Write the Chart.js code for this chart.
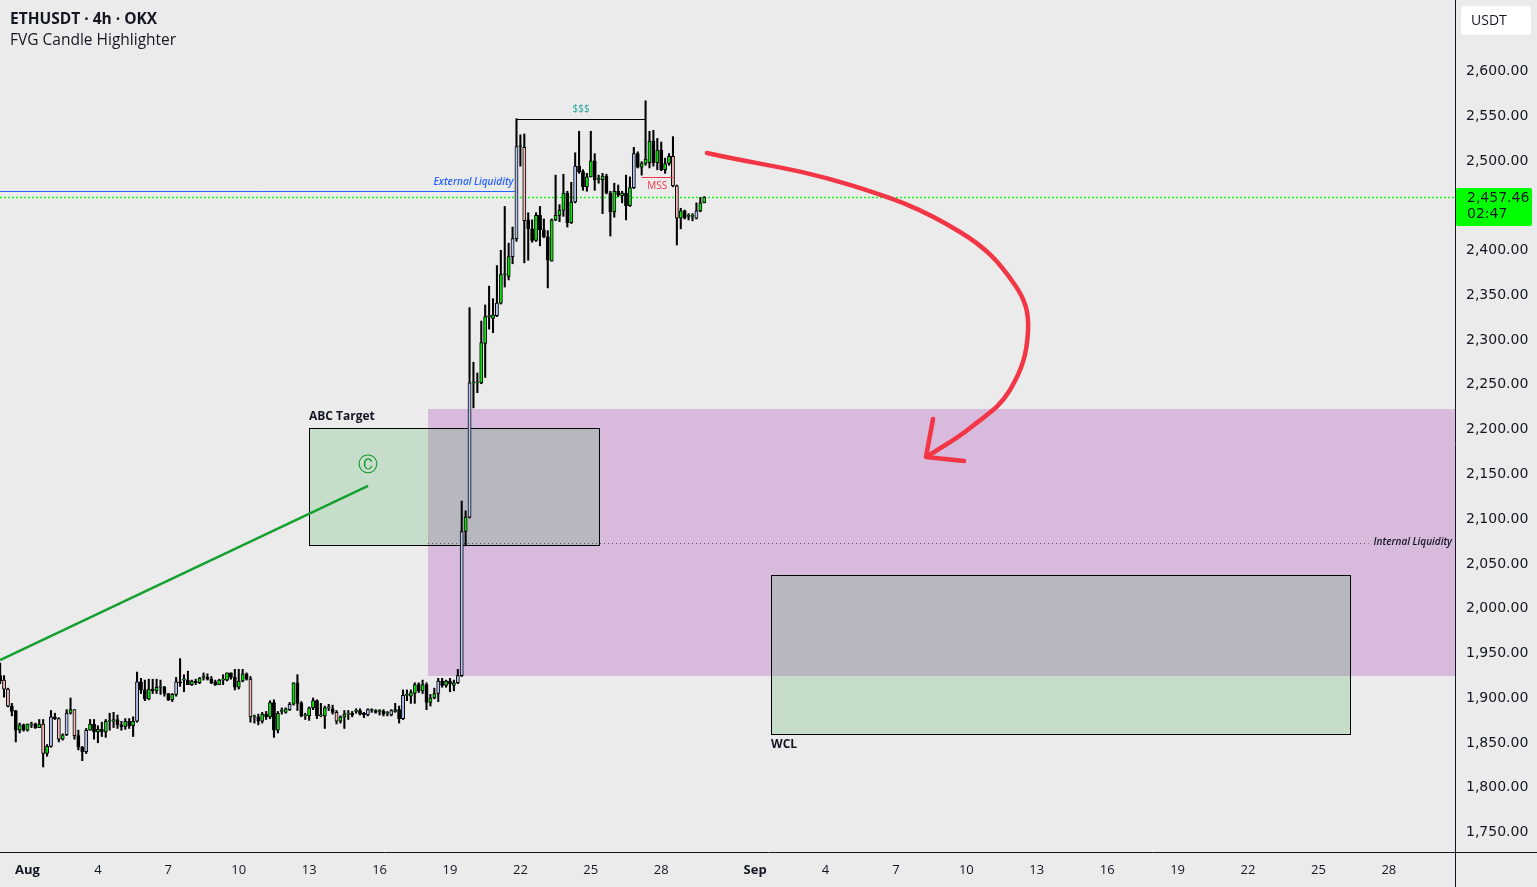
<!DOCTYPE html>
<html>
<head>
<meta charset="utf-8">
<title>ETHUSDT 4h - FVG Candle Highlighter</title>
<script src="https://cdn.jsdelivr.net/npm/chart.js@4.4.1/dist/chart.umd.min.js"></script>
<style>
  html, body { margin: 0; padding: 0; background: #ebebeb; overflow: hidden; }
  #chart { display: block; }
</style>
</head>
<body>
<canvas id="chart" width="1537" height="887"></canvas>
<script>
// 4h candles, Jul 30 20:00 -> Aug 29 20:00
const candleOpen = [
  1923,1918,1908,1889,1884,1862,1868,1862,1868,1869,
  1865,1869,1836,1844,1877,1875,1852,1857,1881,1885,
  1856,1843,1838,1862,1869,1860,1863,1860,1872,1872,
  1874,1868,1866,1872,1867,1872,1916,1907,1897,1908,
  1906,1910,1910,1903,1896,1902,1916,1918,1918,1913,
  1917,1915,1921,1921,1919,1916,1913,1918,1918,1926,
  1921,1910,1917,1925,1919,1877,1877,1872,1880,1877,
  1893,1862,1883,1882,1885,1891,1915,1892,1878,1878,
  1887,1895,1878,1878,1887,1886,1882,1872,1877,1880,
  1881,1883,1884,1881,1879,1884,1884,1883,1883,1881,
  1879,1883,1885,1875,1901,1900,1903,1913,1906,1913,
  1893,1898,1903,1917,1912,1917,1912,1915,1923,2084,
  2100,2250,2250,2250,2294,2324,2322,2325,2339,2371,
  2369,2391,2411,2514,2513,2432,2422,2409,2437,2421,
  2413,2386,2432,2437,2443,2462,2429,2452,2492,2486,
  2469,2480,2498,2477,2477,2481,2462,2441,2464,2459,
  2462,2448,2468,2506,2491,2495,2496,2520,2496,2510,
  2488,2495,2503,2470,2434,2442,2436,2436,2434,2442,
  2451
];
const candleHigh = [
  1937,1923,1909,1892,1884,1870,1869,1869,1871,1870,
  1874,1874,1846,1884,1881,1876,1858,1885,1898,1885,
  1862,1844,1864,1874,1874,1867,1871,1874,1881,1882,
  1879,1872,1875,1875,1877,1927,1920,1918,1919,1919,
  1919,1918,1911,1903,1903,1921,1942,1924,1928,1918,
  1919,1921,1926,1925,1922,1918,1919,1924,1926,1926,
  1930,1930,1930,1926,1922,1879,1880,1882,1883,1895,
  1896,1883,1887,1887,1893,1915,1924,1894,1881,1888,
  1898,1896,1892,1889,1891,1890,1884,1878,1884,1884,
  1883,1886,1886,1882,1886,1886,1885,1885,1885,1883,
  1885,1892,1889,1907,1907,1907,1915,1915,1918,1915,
  1902,1909,1920,1920,1918,1920,1918,1930,2118,2107,
  2334,2273,2261,2319,2337,2358,2344,2381,2398,2447,
  2406,2424,2545,2527,2528,2440,2432,2440,2447,2433,
  2420,2433,2482,2449,2483,2464,2474,2507,2531,2488,
  2484,2531,2506,2482,2484,2483,2464,2473,2471,2464,
  2482,2480,2513,2508,2497,2565,2531,2532,2523,2519,
  2501,2506,2525,2471,2445,2443,2439,2439,2451,2457,
  2458
];
const candleLow = [
  1914,1899,1888,1878,1849,1859,1861,1861,1865,1864,
  1865,1821,1833,1843,1874,1849,1851,1856,1880,1852,
  1840,1828,1836,1862,1852,1848,1855,1854,1862,1865,
  1864,1862,1863,1864,1855,1871,1903,1895,1896,1903,
  1903,1902,1900,1895,1894,1900,1911,1905,1913,1912,
  1913,1914,1918,1918,1914,1912,1913,1913,1917,1919,
  1907,1908,1916,1918,1871,1870,1868,1870,1874,1875,
  1854,1859,1880,1881,1884,1890,1884,1877,1874,1873,
  1885,1875,1877,1864,1884,1880,1869,1870,1864,1874,
  1877,1881,1879,1876,1878,1882,1881,1879,1878,1878,
  1878,1882,1870,1874,1895,1892,1892,1904,1903,1885,
  1889,1897,1894,1910,1910,1905,1906,1914,1922,2068,
  2099,2222,2239,2249,2256,2310,2306,2324,2338,2357,
  2365,2383,2408,2492,2384,2387,2407,2408,2403,2412,
  2356,2386,2431,2430,2436,2424,2428,2451,2484,2465,
  2464,2480,2465,2473,2439,2461,2414,2435,2458,2451,
  2432,2447,2467,2490,2482,2493,2490,2492,2488,2487,
  2484,2493,2469,2404,2422,2433,2432,2431,2433,2441,
  2451
];
const candleClose = [
  1917,1908,1889,1883,1862,1868,1862,1869,1868,1865,
  1869,1836,1844,1877,1875,1852,1857,1881,1885,1856,
  1843,1838,1862,1869,1860,1863,1860,1872,1872,1874,
  1868,1866,1872,1867,1872,1916,1907,1897,1908,1906,
  1910,1910,1903,1896,1902,1916,1915,1918,1913,1917,
  1915,1920,1921,1919,1915,1913,1918,1918,1926,1921,
  1910,1917,1925,1919,1877,1877,1872,1880,1877,1893,
  1862,1881,1883,1886,1891,1915,1892,1878,1878,1887,
  1895,1878,1878,1887,1887,1882,1872,1877,1880,1880,
  1879,1883,1880,1879,1885,1884,1882,1883,1880,1881,
  1884,1885,1875,1901,1901,1904,1913,1906,1913,1893,
  1898,1903,1917,1912,1917,1914,1915,1923,2084,2100,
  2250,2250,2250,2295,2324,2324,2326,2339,2371,2371,
  2391,2411,2514,2514,2431,2422,2409,2437,2421,2413,
  2387,2432,2437,2443,2462,2429,2452,2492,2486,2469,
  2480,2498,2477,2477,2481,2462,2441,2464,2460,2462,
  2448,2468,2506,2491,2495,2500,2520,2496,2510,2488,
  2495,2503,2470,2434,2442,2434,2436,2436,2442,2451,
  2457.46
];
// candles painted by the FVG highlighter (1-based candle numbers)
const fvgCandles = [2,3,12,14,16,18,20,23,36,46,65,75,87,95,101,104,113,118,119,121,128,132,133,135,148,163,173,174,179];

// time axis: days counted from Aug 1 00:00
const lastCandleDay = 28 + 20 / 24;
const xTickDays   = [0,3,6,9,12,15,18,21,24,27,31,34,37,40,43,46,49,52,55,58];
const xTickLabels = ['Aug','4','7','10','13','16','19','22','25','28','Sep','4','7','10','13','16','19','22','25','28'];
const yTickValues = [1750,1800,1850,1900,1950,2000,2050,2100,2150,2200,2250,2300,2350,2400,2450,2500,2550,2600];
const xRange = [-1.172, 60.82];
const yRange = [1726.0, 2677.6];

// drawings (day, price)
const fvgZone = [17.06, 2220.8, 1922.5];          // start day, top, bottom (runs to the right edge)
const abcBox  = [11.99, 24.35, 2199.6, 2068.9];   // left, right, top, bottom
const wclBox  = [31.68, 56.35, 2035.4, 1857.8];
const abcMark = [14.51, 2157.1];
const trendLine = [[-1.172, 1940.4], [14.51, 2134.8]];
const arrowCurve = [[28.95,2506.7],[35.04,2471.0],[39.73,2418.5],[42.07,2359.3],[42.63,2309.0],[41.86,2242.0],[40.16,2199.6],[38.37,2168.3]];
const arrowHead = [[38.58,2209.6],[38.28,2167.2],[39.90,2162.7]];
const externalLiquidity = 2464.3;
const internalLiquidity = 2071.1;
const sweepCandles = [133, 166];   // $$$ line between these highs
const mssCandles = [165, 173];
const mssLevel = 2480;
const lastPrice = 2457.46;
const lastPriceLabel = ['2,457.46', '02:47'];

const n = candleOpen.length;
const candleDay = candleOpen.map((_, i) => lastCandleDay - (n - 1 - i) / 6);
const fvgSet = new Set(fvgCandles);
const bodyColors = candleOpen.map((o, i) => {
    const up = candleClose[i] >= o;
    if (fvgSet.has(i + 1)) return up ? '#b3c5f0' : '#f3b7b7';
    return up ? '#0be30b' : '#000000';
});

const TEXT = '#131722';

function crisp(v) { return Math.round(v) + 0.5; }

// no label overhang padding, so the plot fills the canvas up to the axes
function noPadding(scale) {
    scale.paddingTop = 0;
    scale.paddingBottom = 0;
    scale.paddingLeft = 0;
    scale.paddingRight = 0;
}

const overlayPlugin = {
    id: 'overlay',
    beforeDatasetsDraw(chart) {
        const { ctx, chartArea: a, scales: { x, y } } = chart;
        ctx.save();
        ctx.beginPath();
        ctx.rect(a.left, a.top, a.width, a.height);
        ctx.clip();

        // FVG zone
        const zx = Math.round(x.getPixelForValue(fvgZone[0]));
        const zt = Math.round(y.getPixelForValue(fvgZone[1]));
        const zb = Math.round(y.getPixelForValue(fvgZone[2]));
        ctx.fillStyle = 'rgba(156,39,176,0.25)';
        ctx.fillRect(zx, zt, a.right - zx, zb - zt);

        // target boxes
        [abcBox, wclBox].forEach(b => {
            const l = crisp(x.getPixelForValue(b[0])), r = crisp(x.getPixelForValue(b[1]));
            const t = crisp(y.getPixelForValue(b[2])), btm = crisp(y.getPixelForValue(b[3]));
            ctx.fillStyle = 'rgba(87,179,103,0.25)';
            ctx.fillRect(l, t, r - l, btm - t);
            ctx.strokeStyle = '#000';
            ctx.lineWidth = 1;
            ctx.strokeRect(l, t, r - l, btm - t);
        });

        // internal liquidity (dotted) + label
        ctx.font = 'italic 600 10px "Open Sans"';
        const ilY = crisp(y.getPixelForValue(internalLiquidity));
        const ilText = 'Internal Liquidity';
        const ilW = ctx.measureText(ilText).width;
        ctx.strokeStyle = '#555';
        ctx.setLineDash([1, 3]);
        ctx.beginPath();
        ctx.moveTo(zx, ilY);
        ctx.lineTo(a.right - 3 - ilW - 5, ilY);
        ctx.stroke();
        ctx.setLineDash([]);
        ctx.fillStyle = TEXT;
        ctx.textAlign = 'right';
        ctx.textBaseline = 'middle';
        ctx.fillText(ilText, a.right - 3, ilY - 1);

        // external liquidity
        const swX0 = x.getPixelForValue(candleDay[sweepCandles[0] - 1]);
        const elY = crisp(y.getPixelForValue(externalLiquidity));
        ctx.strokeStyle = '#2962ff';
        ctx.beginPath();
        ctx.moveTo(a.left, elY);
        ctx.lineTo(swX0, elY);
        ctx.stroke();

        // last price dotted line
        const lpY = Math.round(y.getPixelForValue(lastPrice)) + 0.5;
        ctx.strokeStyle = '#00ff00';
        ctx.lineWidth = 1.4;
        ctx.setLineDash([2, 2]);
        ctx.beginPath();
        ctx.moveTo(a.left, lpY);
        ctx.lineTo(a.right, lpY);
        ctx.stroke();
        ctx.setLineDash([]);
        ctx.restore();
    },
    afterDatasetsDraw(chart) {
        const { ctx, scales: { x, y } } = chart;
        ctx.save();
        ctx.textBaseline = 'middle';

        // external liquidity label
        const swX0 = x.getPixelForValue(candleDay[sweepCandles[0] - 1]);
        const swX1 = x.getPixelForValue(candleDay[sweepCandles[1] - 1]);
        ctx.font = 'italic 600 10px "Open Sans"';
        ctx.fillStyle = '#2962ff';
        ctx.textAlign = 'right';
        ctx.fillText('External Liquidity', swX0 - 3, y.getPixelForValue(externalLiquidity) - 9);

        // $$$ sweep line
        const swY = crisp(y.getPixelForValue(candleHigh[sweepCandles[0] - 1]));
        ctx.strokeStyle = '#000';
        ctx.lineWidth = 1;
        ctx.beginPath();
        ctx.moveTo(swX0, swY);
        ctx.lineTo(swX1, swY);
        ctx.stroke();
        ctx.font = '10px "Open Sans"';
        ctx.fillStyle = '#26a69a';
        ctx.textAlign = 'center';
        ctx.fillText('$$$', (swX0 + swX1) / 2, swY - 10);

        // MSS
        const mX0 = x.getPixelForValue(candleDay[mssCandles[0] - 1]);
        const mX1 = x.getPixelForValue(candleDay[mssCandles[1] - 1]);
        const mY = crisp(y.getPixelForValue(mssLevel));
        ctx.strokeStyle = '#f23645';
        ctx.beginPath();
        ctx.moveTo(mX0, mY);
        ctx.lineTo(mX1, mY);
        ctx.stroke();
        ctx.fillStyle = '#f23645';
        ctx.fillText('MSS', (mX0 + mX1) / 2, mY + 9);

        // box labels
        ctx.fillStyle = TEXT;
        ctx.textAlign = 'left';
        ctx.font = 'bold 12px "Open Sans"';
        ctx.fillText('ABC Target', x.getPixelForValue(abcBox[0]), y.getPixelForValue(abcBox[2]) - 11);
        ctx.fillText('WCL', x.getPixelForValue(wclBox[0]), y.getPixelForValue(wclBox[3]) + 11);

        // wave C mark
        ctx.fillStyle = '#1a9a32';
        ctx.textAlign = 'center';
        ctx.font = '20px "DejaVu Sans"';
        ctx.fillText('\u24B8', x.getPixelForValue(abcMark[0]), y.getPixelForValue(abcMark[1]));
        ctx.restore();
    },
    afterDraw(chart) {
        const { ctx, chartArea: a, scales: { y }, width, height } = chart;
        ctx.save();
        // frame lines reaching the canvas edges
        ctx.strokeStyle = TEXT;
        ctx.lineWidth = 1;
        ctx.beginPath();
        ctx.moveTo(crisp(a.right), 0);
        ctx.lineTo(crisp(a.right), height);
        ctx.moveTo(0, crisp(a.bottom));
        ctx.lineTo(width, crisp(a.bottom));
        ctx.stroke();

        // USDT badge
        ctx.fillStyle = '#ffffff';
        ctx.beginPath();
        ctx.roundRect(a.right + 6, 6, 70, 29, 4);
        ctx.fill();
        ctx.fillStyle = TEXT;
        ctx.font = '14px "Open Sans"';
        ctx.textAlign = 'left';
        ctx.textBaseline = 'middle';
        ctx.fillText('USDT', a.right + 16, 21);

        // last price badge
        const lpY = y.getPixelForValue(lastPrice);
        ctx.fillStyle = '#00ff00';
        ctx.beginPath();
        ctx.roundRect(a.right + 1, lpY - 9, 76, 38, 2);
        ctx.fill();
        ctx.fillStyle = TEXT;
        ctx.font = '14px "DejaVu Sans"';
        ctx.fillText(lastPriceLabel[0], a.right + 12, lpY + 1);
        ctx.fillText(lastPriceLabel[1], a.right + 12, lpY + 17);

        // title
        ctx.font = 'bold 15.5px "Open Sans"';
        ctx.fillText('ETHUSDT \u00B7 4h \u00B7 OKX', 10, 20);
        ctx.font = '15.5px "Open Sans"';
        ctx.fillText('FVG Candle Highlighter', 10, 41);
        ctx.restore();
    }
};

const ctx = document.getElementById('chart').getContext('2d');
new Chart(ctx, {
    type: 'bar',
    data: {
        datasets: [
            {
                type: 'line',
                data: trendLine.map(p => ({ x: p[0], y: p[1] })),
                borderColor: '#14a02e',
                borderWidth: 2.5,
                pointRadius: 0,
                order: 0
            },
            {
                type: 'line',
                data: arrowCurve.map(p => ({ x: p[0], y: p[1] })),
                borderColor: '#f23645',
                borderWidth: 4.5,
                borderCapStyle: 'round',
                tension: 0.4,
                pointRadius: 0,
                order: 0
            },
            {
                type: 'line',
                data: arrowHead.map(p => ({ x: p[0], y: p[1] })),
                borderColor: '#f23645',
                borderWidth: 4.5,
                borderCapStyle: 'round',
                borderJoinStyle: 'round',
                tension: 0,
                pointRadius: 0,
                order: 0
            },
            {
                label: 'bodies',
                data: candleDay.map((d, i) => ({ x: d, y: [candleOpen[i], candleClose[i]] })),
                backgroundColor: bodyColors,
                borderColor: '#000000',
                borderWidth: 1,
                borderSkipped: false,
                barThickness: 3.2,
                minBarLength: 1,
                grouped: false,
                order: 1
            },
            {
                label: 'wicks',
                data: candleDay.map((d, i) => ({ x: d, y: [candleLow[i], candleHigh[i]] })),
                backgroundColor: '#000000',
                barThickness: 1.4,
                grouped: false,
                order: 2
            }
        ]
    },
    options: {
        responsive: false,
        animation: false,
        devicePixelRatio: 1,
        layout: { padding: 0 },
        plugins: {
            legend: { display: false },
            tooltip: { enabled: false }
        },
        scales: {
            x: {
                type: 'linear',
                min: xRange[0],
                max: xRange[1],
                offset: false,
                grid: { display: false, drawTicks: false },
                border: { display: false },
                afterFit: scale => { scale.height = 35; noPadding(scale); },
                afterBuildTicks: scale => { scale.ticks = xTickDays.map(v => ({ value: v })); },
                ticks: {
                    autoSkip: false,
                    maxRotation: 0,
                    padding: 10,
                    color: TEXT,
                    font: c => ({
                        family: 'Open Sans',
                        size: 13,
                        weight: (c.index === 0 || c.index === 10) ? 'bold' : 'normal'
                    }),
                    callback: (v, i) => xTickLabels[i]
                }
            },
            y: {
                position: 'right',
                min: yRange[0],
                max: yRange[1],
                grid: { display: false, drawTicks: false },
                border: { display: false },
                afterFit: scale => { scale.width = 82; noPadding(scale); },
                afterBuildTicks: scale => { scale.ticks = yTickValues.map(v => ({ value: v })); },
                ticks: {
                    padding: 11,
                    labelOffset: 2,
                    color: TEXT,
                    font: { family: 'DejaVu Sans', size: 14 },
                    callback: v => v.toLocaleString('en-US', { minimumFractionDigits: 2, maximumFractionDigits: 2 })
                }
            }
        }
    },
    plugins: [overlayPlugin]
});
</script>
</body>
</html>
